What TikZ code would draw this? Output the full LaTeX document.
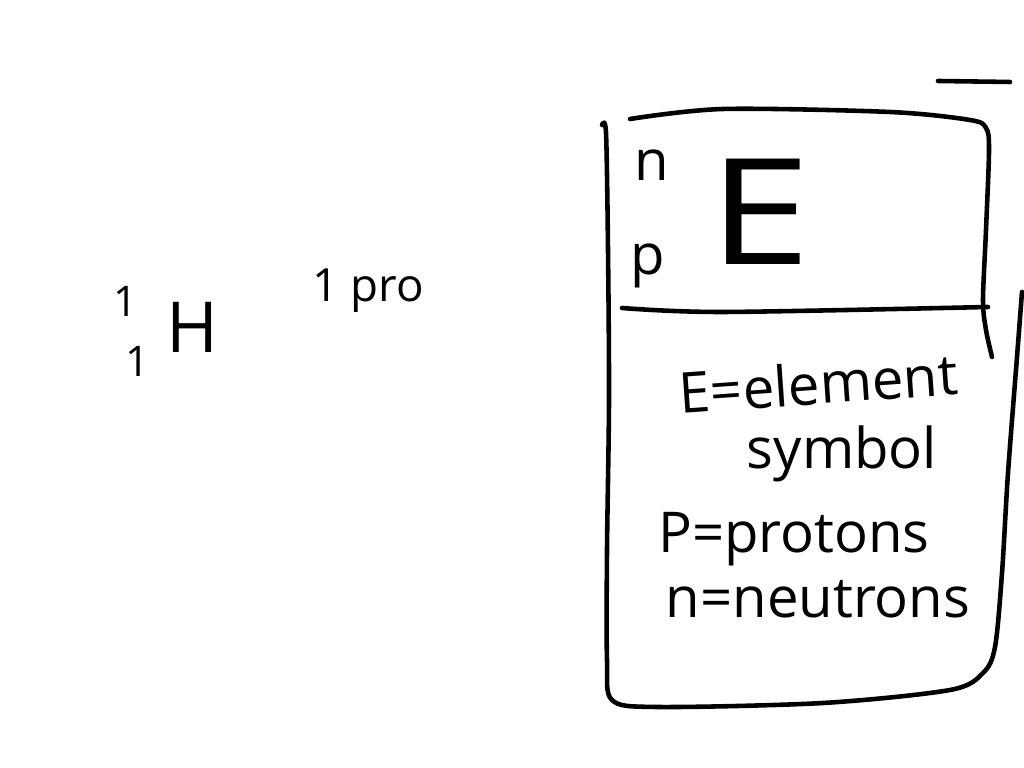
\documentclass[tikz,border=0pt]{standalone}
\usepackage{fontspec}
\setmainfont{Open Sans}
\tikzstyle{pen} = [line width=1.3pt, line cap=round, line join=round, black]
\tikzstyle{note} = [inner sep=0pt, font=\fontsize{16}{18}\selectfont]
\tikzstyle{small_note} = [inner sep=0pt, font=\fontsize{13}{15}\selectfont]
\tikzstyle{nuclide_num} = [inner sep=0pt, font=\fontsize{12}{14}\selectfont]
\tikzstyle{nuclide_sym} = [inner sep=0pt, font=\fontsize{20}{24}\selectfont]
\tikzstyle{corner_label} = [inner sep=0pt, font=\fontsize{16}{18}\selectfont]
\tikzstyle{big_letter} = [inner sep=0pt, font=\fontsize{42}{46}\selectfont]
\begin{document}
\begin{tikzpicture}[x=0.01cm, y=-0.01cm]

    \fill [white] (0, 0) rectangle (1024, 768);
    \useasboundingbox (0, 0) rectangle (1024, 768);

    % hydrogen in nuclide notation
    \node (mass_num) [nuclide_num] at (126, 301) {1};
    \node (atom_num) [nuclide_num] at (138, 361) {1};
    \node (hydrogen) [nuclide_sym] at (192, 327) {H};
    \node (one_pro) [small_note, anchor=base west] at (312, 302) {1 pro};

    % the box
    \draw [pen] plot [smooth, tension=0.5] coordinates {(630, 119) (723, 109) (890, 112) (970, 120) (986, 128) (989, 150) (986, 230) (983, 300) (986, 330) (992, 357)};
    \draw [pen] plot [smooth, tension=0.5] coordinates {(602, 125) (606, 133) (608, 250) (609, 400) (607, 550) (607, 660) (612, 700) (657, 707) (823, 703) (950, 690) (983, 673) (995, 647) (1002, 573) (1008, 473) (1017, 357) (1022, 292)};
    \draw [pen] plot [smooth, tension=0.5] coordinates {(622, 308) (723, 312) (988, 307)};
    \draw [pen] (938, 81) -- (1010, 82);

    \node (n_label) [corner_label] at (652, 165) {n};
    \node (p_label) [corner_label, anchor=base] at (648, 275) {p};
    \node (e_big) [big_letter, xscale=1.25] at (760, 212) {E};

    \node (elem_line) [note, anchor=base, rotate=4] at (820, 404) {E=element};
    \node (sym_line) [note, anchor=base] at (842, 469) {symbol};
    \node (prot_line) [note, anchor=base] at (794, 553) {P=protons};
    \node (neut_line) [note, anchor=base] at (818, 618) {n=neutrons};

\end{tikzpicture}
\end{document}
